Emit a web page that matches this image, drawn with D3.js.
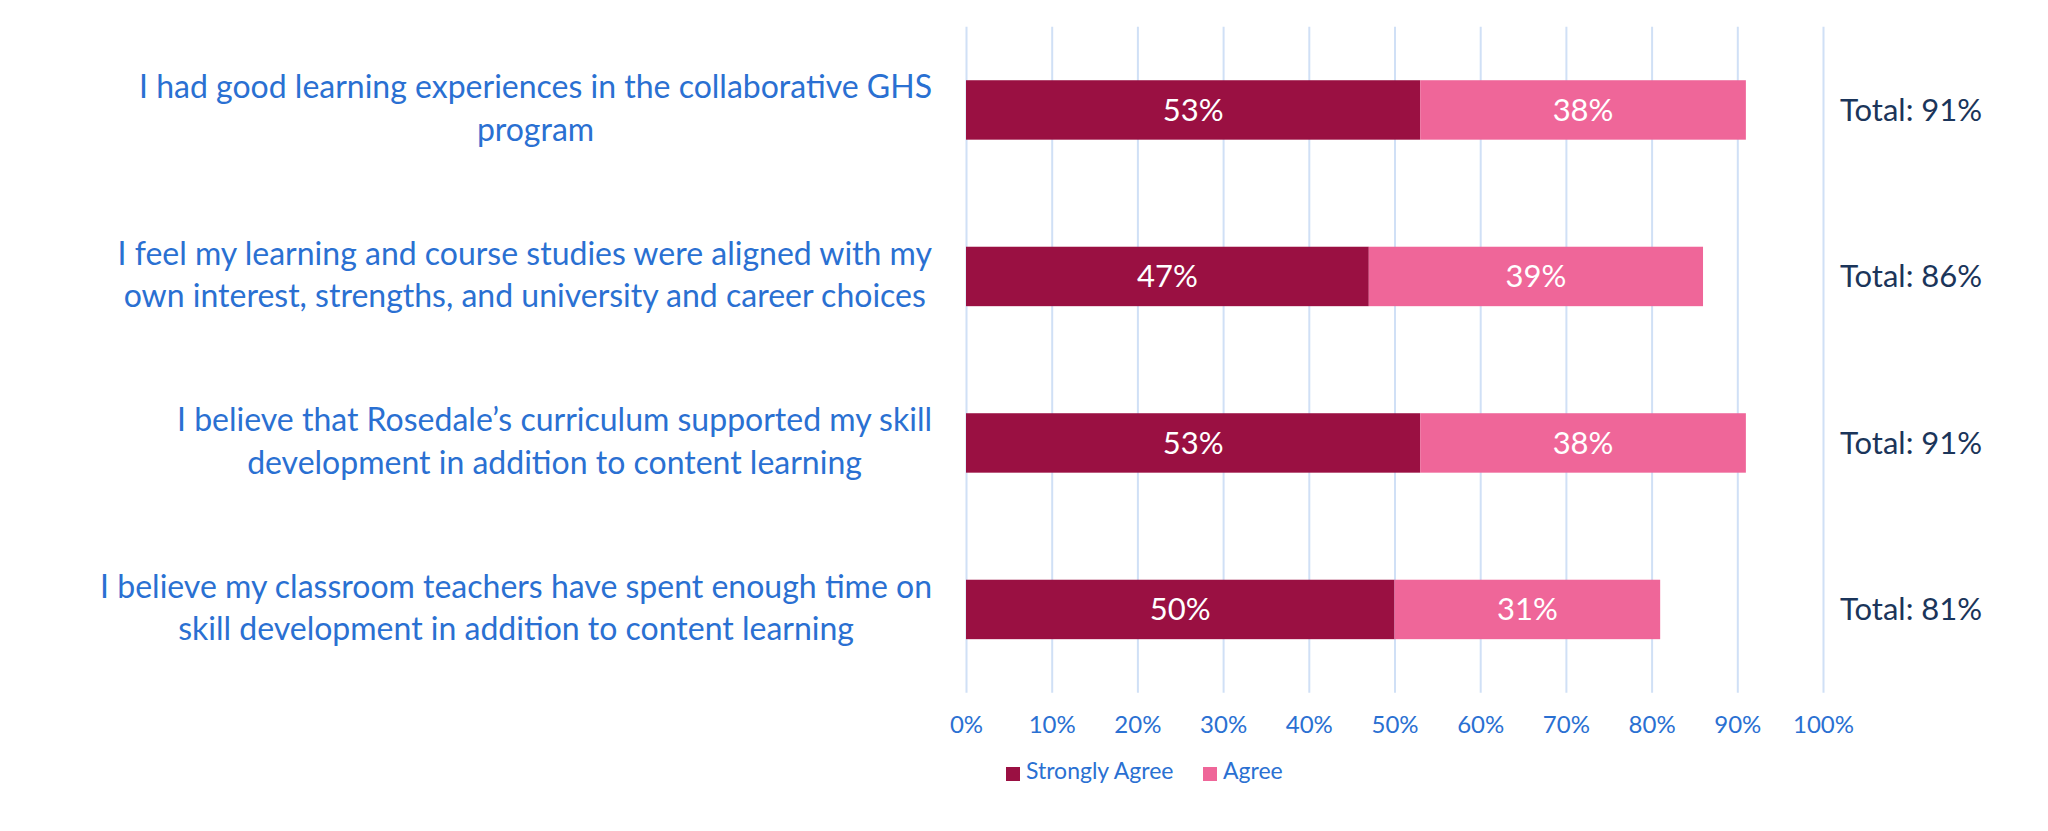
<!DOCTYPE html>
<html>
<head>
<meta charset="utf-8">
<script src="https://cdn.jsdelivr.net/npm/d3@7"></script>
<style>
  body { margin: 0; background: #fff; }
  text { font-family: Lato, "Open Sans", sans-serif; }
</style>
</head>
<body>
<svg id="chart" width="2048" height="831"></svg>
<script>
// survey data
var categories = [
  ["I had good learning experiences in the collaborative GHS", "program"],
  ["I feel my learning and course studies were aligned with my", "own interest, strengths, and university and career choices"],
  ["I believe that Rosedale\u2019s curriculum supported my skill", "development in addition to content learning"],
  ["I believe my classroom teachers have spent enough time on", "skill development in addition to content learning"]
];
var stronglyAgree = [53, 47, 53, 50];
var agree = [38, 39, 38, 31];
var totals = [91, 86, 91, 81];
var seriesNames = ["Strongly Agree", "Agree"];
var ticks = [0, 10, 20, 30, 40, 50, 60, 70, 80, 90, 100];

var colors = ["#9a1042", "#ef6699"];
var blue = "#2a70d2";

var svg = d3.select("#chart");

var x = d3.scaleLinear().domain([0, 100]).range([966, 1823]);
var y = d3.scaleBand()
    .domain(d3.range(categories.length))
    .range([26.7, 692.7])
    .paddingInner(0.643)
    .paddingOuter(0.3215);

// gridlines + tick labels
var axis = svg.append("g")
    .attr("transform", "translate(0,692.7)")
    .call(d3.axisBottom(x)
        .tickValues(ticks)
        .tickSize(-(692.7 - 26.7))
        .tickFormat(function (d) { return d + "%"; }));
axis.select(".domain").remove();
axis.selectAll(".tick line").attr("stroke", "#d0e0f6").attr("stroke-width", 2);
axis.selectAll(".tick text")
    .attr("y", 40).attr("dy", 0)
    .attr("fill", blue)
    .style("font-size", "24px");

// stacked bars
var rows = categories.map(function (c, i) {
  return { i: i, sa: stronglyAgree[i], a: agree[i], total: totals[i] };
});

var bar = svg.selectAll(".bar")
    .data(rows)
    .enter().append("g")
    .attr("class", "bar");

bar.append("rect")
    .attr("x", x(0))
    .attr("y", function (d) { return y(d.i); })
    .attr("width", function (d) { return x(d.sa) - x(0); })
    .attr("height", y.bandwidth())
    .attr("fill", colors[0]);

bar.append("rect")
    .attr("x", function (d) { return x(d.sa); })
    .attr("y", function (d) { return y(d.i); })
    .attr("width", function (d) { return x(d.sa + d.a) - x(d.sa); })
    .attr("height", y.bandwidth())
    .attr("fill", colors[1]);

bar.append("text")
    .attr("x", function (d) { return (x(0) + x(d.sa)) / 2; })
    .attr("y", function (d) { return y(d.i) + y.bandwidth() / 2; })
    .attr("dy", "0.35em")
    .attr("text-anchor", "middle")
    .attr("fill", "#fff")
    .style("font-size", "31px")
    .text(function (d) { return d.sa + "%"; });

bar.append("text")
    .attr("x", function (d) { return (x(d.sa) + x(d.sa + d.a)) / 2; })
    .attr("y", function (d) { return y(d.i) + y.bandwidth() / 2; })
    .attr("dy", "0.35em")
    .attr("text-anchor", "middle")
    .attr("fill", "#fff")
    .style("font-size", "31px")
    .text(function (d) { return d.a + "%"; });

// totals on the right
bar.append("text")
    .attr("x", 1840)
    .attr("y", function (d) { return y(d.i) + y.bandwidth() / 2; })
    .attr("dy", "0.35em")
    .attr("fill", "#1b355a")
    .style("font-size", "31px")
    .text(function (d) { return "Total: " + d.total + "%"; });

// category labels: block right aligned, lines centered
var labelRight = 932;
categories.forEach(function (lines, i) {
  var cy = y(i) + y.bandwidth() / 2;
  var g = svg.append("g");
  var texts = lines.map(function (line, k) {
    return g.append("text")
        .attr("y", cy + (k === 0 ? -11.5 : 31))
        .attr("text-anchor", "middle")
        .attr("fill", blue)
        .style("font-size", "32px")
        .text(line);
  });
  var maxW = d3.max(texts, function (t) { return t.node().getComputedTextLength(); });
  texts.forEach(function (t) { t.attr("x", labelRight - maxW / 2); });
});

// legend
var legendX = [1006, 1203];
var legend = svg.selectAll(".legend")
    .data(seriesNames)
    .enter().append("g")
    .attr("class", "legend")
    .attr("transform", function (d, i) { return "translate(" + legendX[i] + ",767)"; });

legend.append("rect")
    .attr("width", 14)
    .attr("height", 14)
    .attr("fill", function (d, i) { return colors[i]; });

legend.append("text")
    .attr("x", 20)
    .attr("y", 12)
    .attr("fill", blue)
    .style("font-size", "23px")
    .text(function (d) { return d; });
</script>
</body>
</html>
